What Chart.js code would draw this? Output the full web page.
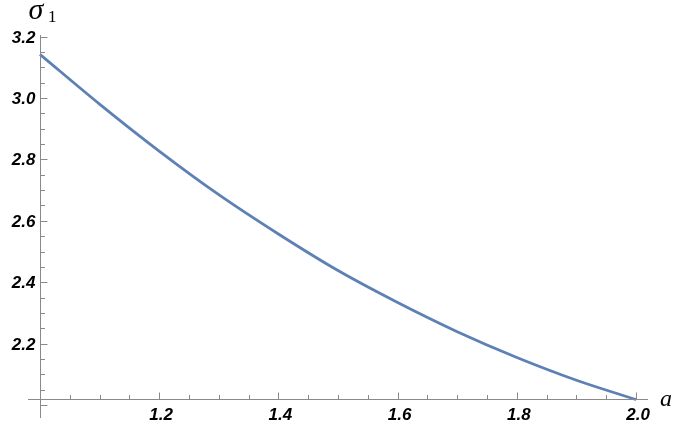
<!DOCTYPE html>
<html><head><meta charset="utf-8">
<script src="https://cdn.jsdelivr.net/npm/chart.js@4.4.1/dist/chart.umd.min.js"></script>
<style>html,body{margin:0;padding:0;background:#fff}#wrap{width:685px;height:434px;position:relative}</style>
</head><body><div id="wrap"><canvas id="c"></canvas></div>
<script>
const aValues     = [1.0, 1.1, 1.2, 1.3, 1.4, 1.5, 1.6, 1.7, 1.8, 1.9, 2.0];
const sigmaValues = [3.142, 2.980, 2.827, 2.685, 2.557, 2.438, 2.334, 2.239, 2.155, 2.081, 2.018];
const xMajorTicks = [1.2, 1.4, 1.6, 1.8, 2.0];
const yMajorTicks = [2.0, 2.2, 2.4, 2.6, 2.8, 3.0, 3.2];
const yLabelTicks = [2.2, 2.4, 2.6, 2.8, 3.0, 3.2];
const xMinorTicks = [1.05, 1.1, 1.15, 1.25, 1.3, 1.35, 1.45, 1.5, 1.55, 1.65, 1.7, 1.75, 1.85, 1.9, 1.95];
const yMinorTicks = [2.05, 2.1, 2.15, 2.25, 2.3, 2.35, 2.45, 2.5, 2.55, 2.65, 2.7, 2.75, 2.85, 2.9, 2.95, 3.05, 3.1, 3.15];
const axesOrigin  = [1.0, 2.02];
const xRange      = [0.98, 2.02];
const yRange      = [1.958, 3.205];
const xTitle = 'a';
const yTitle = 'σ';
const yTitleSub = '1';

const AXIS_COLOR = '#8a8a8a';
const LINE_COLOR = '#5e81b5';
const TICK_FONT = 'italic bold 17px "Liberation Sans", Arial, sans-serif';

const axesPlugin = {
  id: 'mathAxes',
  afterDraw(chart) {
    const ctx = chart.ctx, xs = chart.scales.x, ys = chart.scales.y;
    const x0 = Math.round(xs.getPixelForValue(axesOrigin[0])) + 0.5;
    const y0 = Math.round(ys.getPixelForValue(axesOrigin[1])) + 0.5;
    ctx.save();
    ctx.strokeStyle = AXIS_COLOR; ctx.lineWidth = 1;
    ctx.beginPath();
    ctx.moveTo(xs.left, y0); ctx.lineTo(xs.right, y0);
    ctx.moveTo(x0, ys.top); ctx.lineTo(x0, ys.bottom);
    xMajorTicks.forEach(v => { const p = Math.round(xs.getPixelForValue(v)) + 0.5; ctx.moveTo(p, y0); ctx.lineTo(p, y0 - 7); });
    xMinorTicks.forEach(v => { const p = Math.round(xs.getPixelForValue(v)) + 0.5; ctx.moveTo(p, y0); ctx.lineTo(p, y0 - 4.5); });
    yMajorTicks.forEach(v => { const p = Math.round(ys.getPixelForValue(v)) + 0.5; ctx.moveTo(x0, p); ctx.lineTo(x0 + 7, p); });
    yMinorTicks.forEach(v => { const p = Math.round(ys.getPixelForValue(v)) + 0.5; ctx.moveTo(x0, p); ctx.lineTo(x0 + 4.5, p); });
    ctx.stroke();

    ctx.fillStyle = '#000';
    ctx.textBaseline = 'alphabetic';
    ctx.font = TICK_FONT;
    ctx.textAlign = 'center';
    xMajorTicks.forEach(v => ctx.fillText(v.toFixed(1), xs.getPixelForValue(v) + 2, y0 + 20.5));
    ctx.textAlign = 'right';
    yLabelTicks.forEach(v => ctx.fillText(v.toFixed(1), x0 - 5, ys.getPixelForValue(v) + 6));

    ctx.textAlign = 'left';
    ctx.font = 'italic 30px "Liberation Serif", "Times New Roman", serif';
    ctx.fillText(yTitle, x0 - 12, 18.5);
    ctx.font = '17px "Liberation Serif", "Times New Roman", serif';
    ctx.fillText(yTitleSub, x0 + 7.5, 21.5);
    ctx.font = 'italic 24px "Liberation Serif", "Times New Roman", serif';
    ctx.fillText(xTitle, xs.right + 12, y0 + 6.5);
    ctx.restore();
  }
};

new Chart(document.getElementById('c'), {
  type: 'line',
  data: {
    datasets: [{
      data: aValues.map((a, i) => ({x: a, y: sigmaValues[i]})),
      borderColor: LINE_COLOR,
      borderWidth: 2.8,
      pointRadius: 0,
      fill: false,
      cubicInterpolationMode: 'monotone'
    }]
  },
  options: {
    responsive: true,
    maintainAspectRatio: false,
    animation: false,
    devicePixelRatio: 1,
    layout: {padding: {left: 28, right: 37, top: 35, bottom: 16}},
    plugins: {legend: {display: false}, tooltip: {enabled: false}},
    scales: {
      x: {
        type: 'linear', min: xRange[0], max: xRange[1],
        position: {y: axesOrigin[1]},
        grid: {display: false}, border: {display: false},
        ticks: {display: false}
      },
      y: {
        type: 'linear', min: yRange[0], max: yRange[1],
        position: {x: axesOrigin[0]},
        grid: {display: false}, border: {display: false},
        ticks: {display: false}
      }
    }
  },
  plugins: [axesPlugin]
});
</script>
</body></html>
